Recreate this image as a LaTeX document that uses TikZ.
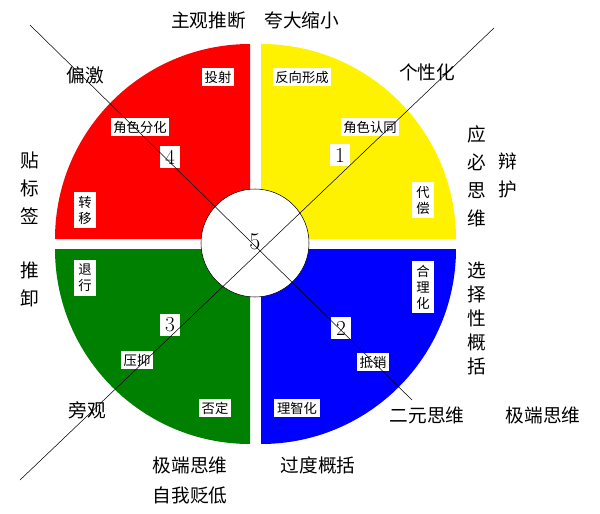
\documentclass[tikz,border=0pt]{standalone}
\usepackage{fontspec}
\newfontfamily\cjk{Noto Sans CJK SC}
\begin{document}
\begin{tikzpicture}[x=0.75pt,y=-0.75pt,
  lbl/.style={fill=white,inner sep=2pt,font=\cjk\fontsize{10}{12}\selectfont},
  vlbl/.style={fill=white,inner sep=3pt,align=center,font=\cjk\fontsize{10}{12}\selectfont},
  num/.style={fill=white,inner sep=2pt,minimum width=15pt,minimum height=17pt,font=\fontsize{16}{16}\selectfont},
  big/.style={font=\cjk\fontsize{14}{16}\selectfont,inner sep=0pt}]
\useasboundingbox (0,0) rectangle (600,514);
\fill[red] (250,239) -- (55,239) arc[start angle=180,end angle=270,radius=195] -- cycle;
\fill[yellow] (261,239) -- (261,44) arc[start angle=270,end angle=360,radius=195] -- cycle;
\fill[blue] (261,249) -- (456,249) arc[start angle=0,end angle=90,radius=195] -- cycle;
\fill[green!50!black] (250,249) -- (250,444) arc[start angle=90,end angle=180,radius=195] -- cycle;
\node[draw=black,fill=white,circle,minimum size=108pt*0.75,inner sep=0pt] (c) at (255,243) {};
\node[lbl] (a1) at (218,77) {投射};
\node[lbl] (a2) at (302,77) {反向形成};
\node[lbl] (a3) at (140,127) {角色分化};
\node[lbl] (a4) at (370,127) {角色认同};
\node[num] (n4) at (170,157) {4};
\node[num] (n1) at (340,155) {1};
\node[vlbl] (a5) at (85,210) {转\\移};
\node[vlbl] (a6) at (423,200) {代\\偿};
\node[vlbl] (a7) at (85,278) {退\\行};
\node[vlbl] (a8) at (423,287) {合\\理\\化};
\node[num] (n3) at (170,325) {3};
\node[num] (n2) at (341,328) {2};
\node[lbl] (a9) at (137,360) {压抑};
\node[lbl] (a10) at (373,362) {抵销};
\node[lbl] (a11) at (215,408) {否定};
\node[lbl] (a12) at (297,408) {理智化};
\coordinate (tl) at (30,25); \coordinate (br) at (412,400);
\coordinate (tr) at (494,28); \coordinate (bl) at (20,480);
\draw[thin] (tl) -- (br);
\draw[thin] (tr) -- (bl);
\node[font=\fontsize{18}{18}\selectfont,inner sep=0pt] (n5) at (255,242) {5};
\node[big] (t1) at (255,20) {主观推断\hspace{1em}夸大缩小};
\node[big] (t2) at (85,75) {偏激};
\node[big] (t3) at (427,72) {个性化};
\node[big,align=center] (t4) at (30,188) {贴\\[5pt]标\\[5pt]签};
\node[big,align=center] (t5) at (30,284) {推\\[5pt]卸};
\node[big,align=center] (t6) at (477,176) {应\\[5pt]必\\[5pt]思\\[5pt]维};
\node[big,align=center] (t7) at (508,175) {辩\\[5pt]护};
\node[big,align=center,font=\cjk\fontsize{14}{15}\selectfont] (t8) at (477,318) {选\\[3pt]择\\[3pt]性\\[3pt]概\\[3pt]括};
\node[big] (t9) at (427,415) {二元思维};
\node[big] (t10) at (543,415) {极端思维};
\node[big] (t11) at (87,410) {旁观};
\node[big] (t12) at (190,465) {极端思维};
\node[big] (t13) at (318,465) {过度概括};
\node[big] (t14) at (190,495) {自我贬低};
\end{tikzpicture}
\end{document}
